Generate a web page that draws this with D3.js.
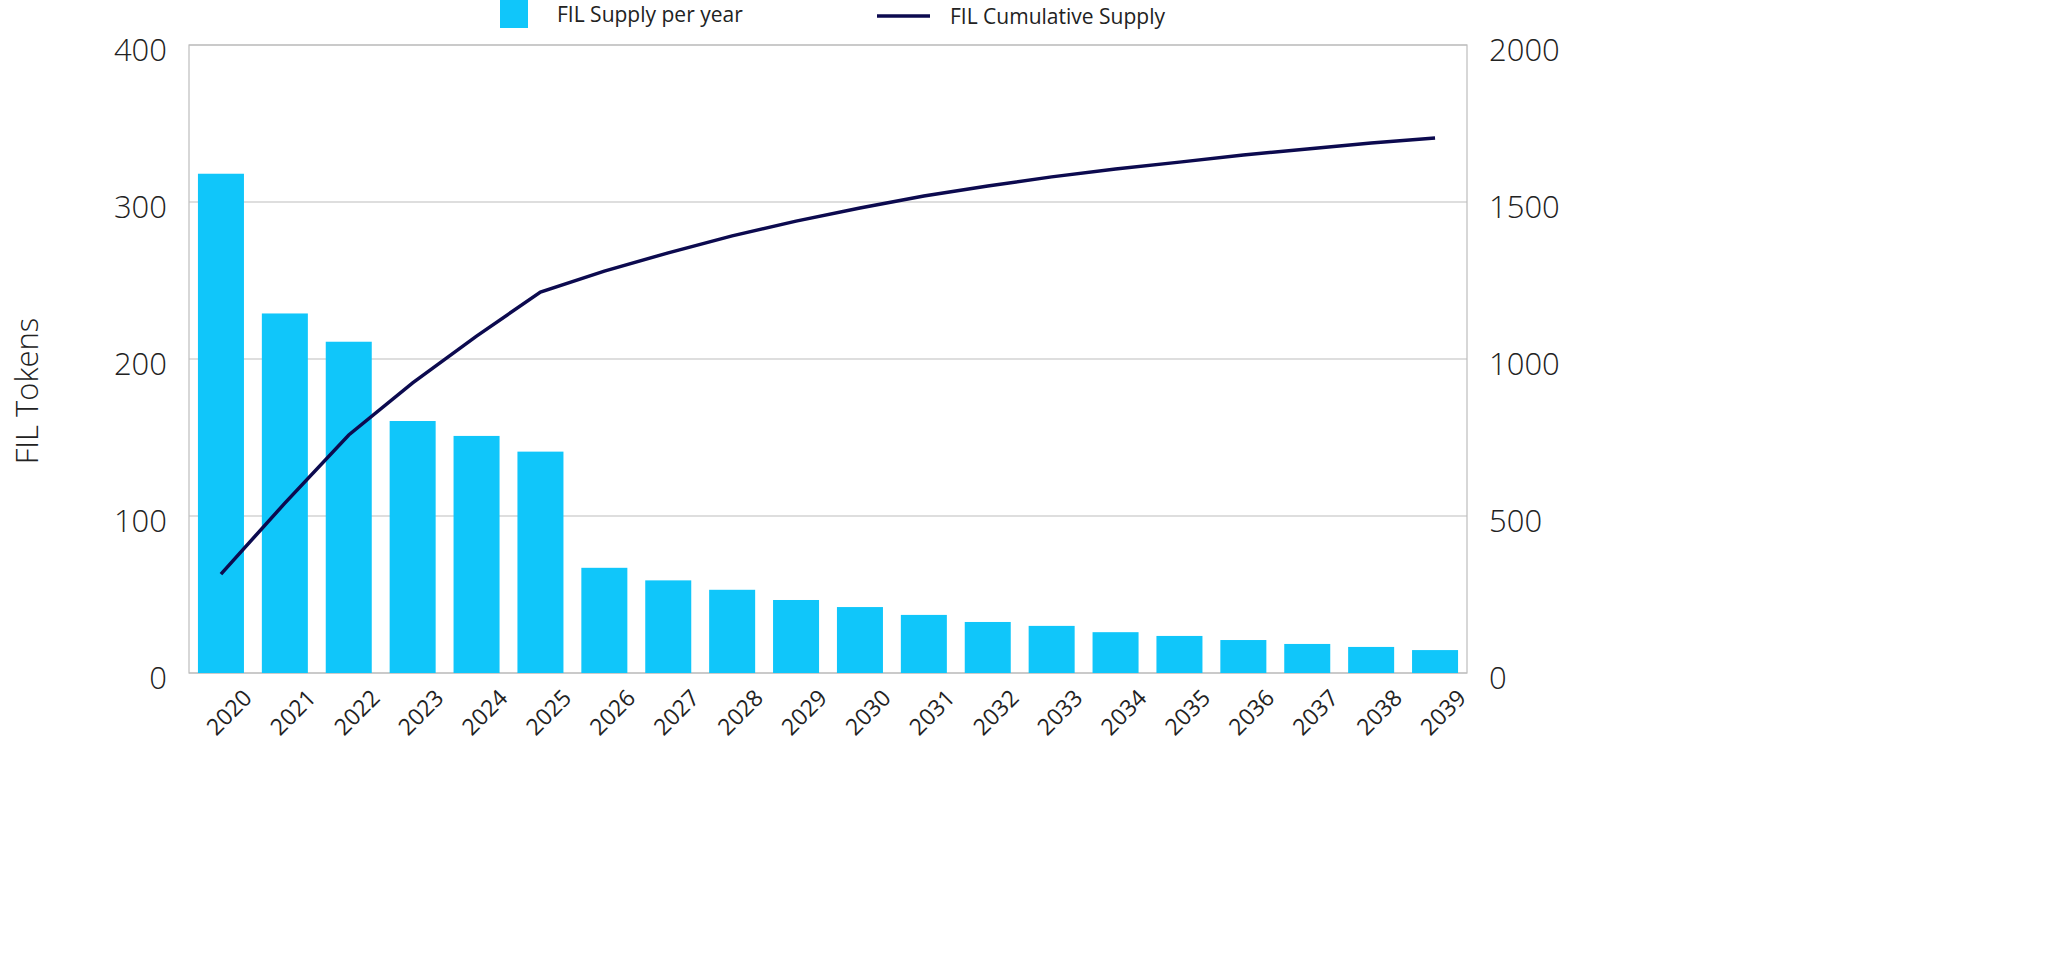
<!DOCTYPE html>
<html><head><meta charset="utf-8">
<script src="https://cdn.jsdelivr.net/npm/d3@7"></script>
<style>body{margin:0;background:#fff;}svg{display:block;font-family:"Open Sans",sans-serif;}</style>
</head><body>
<script>
const years = ["2020","2021","2022","2023","2024","2025","2026","2027","2028","2029","2030","2031","2032","2033","2034","2035","2036","2037","2038","2039"];
const supplyPerYear = [318,229,211,160.5,151,141,67,59,53,46.5,42,37,32.5,30,26,23.6,21,18.5,16.6,14.6];
const cumulativeSupply = [315,541,758,924,1073,1213,1280,1338,1392,1439,1481,1519,1551,1580,1605,1627,1650,1669,1688,1704];
const leftTicks = [0,100,200,300,400];
const rightTicks = [0,500,1000,1500,2000];

const W=2048,H=968, m={l:189,r:2048-1467,t:45,b:968-673};
const svg=d3.select("body").append("svg").attr("width",W).attr("height",H);
const x=d3.scaleBand().domain(years).range([m.l,W-m.r]).paddingInner(0.28).paddingOuter(0.14);
const yL=d3.scaleLinear().domain([0,400]).range([H-m.b,m.t]);
const yR=d3.scaleLinear().domain([0,2000]).range([H-m.b,m.t]);

svg.append("g").selectAll("line").data(leftTicks).join("line")
 .attr("x1",m.l).attr("x2",W-m.r).attr("y1",d=>yL(d)).attr("y2",d=>yL(d))
 .attr("stroke","#bdbdbd").attr("stroke-width",1.2);
svg.append("rect").attr("x",m.l).attr("y",m.t).attr("width",W-m.l-m.r).attr("height",H-m.t-m.b)
 .attr("fill","none").attr("stroke","#bdbdbd").attr("stroke-width",1.2);

svg.append("g").selectAll("rect").data(years).join("rect")
 .attr("x",d=>x(d)).attr("width",x.bandwidth())
 .attr("y",(d,i)=>yL(supplyPerYear[i])).attr("height",(d,i)=>yL(0)-yL(supplyPerYear[i]))
 .attr("fill","#10c6fa");

const line=d3.line().x((d,i)=>x(years[i])+x.bandwidth()/2).y(d=>yR(d));
svg.append("path").datum(cumulativeSupply).attr("d",line).attr("fill","none")
 .attr("stroke","#0c0a4f").attr("stroke-width",3.5);

const la=svg.append("g").attr("transform",`translate(${m.l},0)`)
 .call(d3.axisLeft(yL).tickValues(leftTicks).tickSize(0).tickPadding(22));
const ra=svg.append("g").attr("transform",`translate(${W-m.r},0)`)
 .call(d3.axisRight(yR).tickValues(rightTicks).tickFormat(d3.format("d")).tickSize(0).tickPadding(22));
[la,ra].forEach(g=>{g.select(".domain").remove();g.selectAll("text").attr("font-size",31).attr("fill","#222").attr("font-family","'Open Sans',sans-serif").attr("font-weight",300).attr("dy","0.5em");});

const xa=svg.append("g").attr("transform",`translate(0,${H-m.b})`)
 .call(d3.axisBottom(x).tickSize(0).tickPadding(10));
xa.select(".domain").remove();
xa.selectAll("text").attr("font-size",23).attr("fill","#222").attr("font-family","'Open Sans',sans-serif")
 .attr("text-anchor","end").attr("transform","translate(14,8) rotate(-45)").attr("dy","0.7em");

svg.append("text").attr("transform","translate(38,391) rotate(-90)").attr("text-anchor","middle")
 .attr("font-size",31).attr("font-weight",300).attr("fill","#222").text("FIL Tokens");

svg.append("rect").attr("x",500).attr("y",0).attr("width",28).attr("height",28).attr("fill","#10c6fa");
svg.append("text").attr("x",557).attr("y",22).attr("font-size",21).attr("fill","#222").text("FIL Supply per year");
svg.append("line").attr("x1",877).attr("x2",930).attr("y1",16).attr("y2",16).attr("stroke","#0c0a4f").attr("stroke-width",3.5);
svg.append("text").attr("x",950).attr("y",24).attr("font-size",21).attr("fill","#222").text("FIL Cumulative Supply");
</script>
</body></html>
